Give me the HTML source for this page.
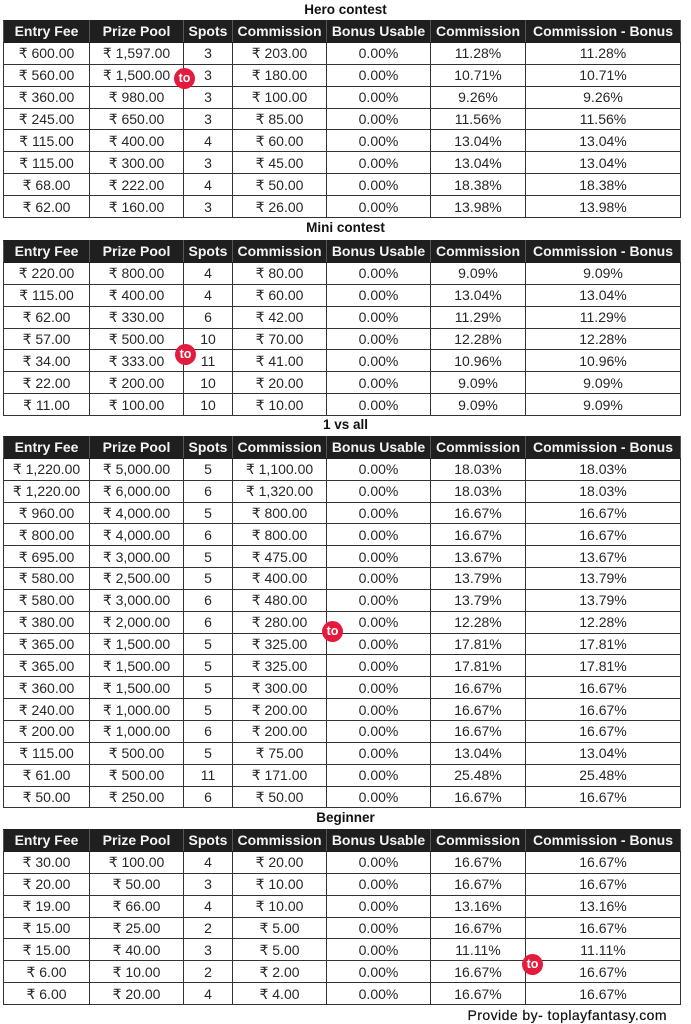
<!DOCTYPE html>
<html><head><meta charset="utf-8">
<style>
html,body{margin:0;padding:0;background:#fff;}
body{width:691px;height:1024px;position:relative;overflow:hidden;font-family:"Liberation Sans","DejaVu Sans",sans-serif;}
.title{position:absolute;left:0;width:691px;text-align:center;font-weight:bold;font-size:13.5px;color:#111;line-height:16px;}
table{position:absolute;left:3px;width:677px;border-collapse:collapse;table-layout:fixed;}
td,th{border:1.5px solid #333;padding:0;text-align:center;font-size:14px;color:#262626;white-space:nowrap;overflow:hidden;line-height:14px;}
th{background:#1f1f1f;color:#f4f4f4;font-weight:bold;font-size:14px;border-color:#1f1f1f #555 #1f1f1f #555;}
.wm{position:absolute;width:21px;height:21px;border-radius:50%;background:#e41b3c;color:#fff;font-weight:bold;font-size:12.5px;line-height:21px;text-align:center;z-index:5;}
.prov{position:absolute;right:24px;top:1007px;font-size:14px;color:#111;letter-spacing:0.45px;font-weight:500;-webkit-text-stroke:0.2px #111;font-family:"Liberation Sans","DejaVu Sans",sans-serif;}
</style></head><body>

<div class="title" style="top:2px;">Hero contest</div>
<table style="top:20px;">
<colgroup><col style="width:86px"><col style="width:94px"><col style="width:49px"><col style="width:94px"><col style="width:104px"><col style="width:95px"><col style="width:155px"></colgroup>
<tr style="height:21.9px"><th>Entry Fee</th><th>Prize Pool</th><th>Spots</th><th>Commission</th><th>Bonus Usable</th><th>Commission</th><th>Commission - Bonus</th></tr>
<tr style="height:21.9px"><td>₹ 600.00</td><td>₹ 1,597.00</td><td>3</td><td>₹ 203.00</td><td>0.00%</td><td>11.28%</td><td>11.28%</td></tr>
<tr style="height:21.9px"><td>₹ 560.00</td><td>₹ 1,500.00</td><td>3</td><td>₹ 180.00</td><td>0.00%</td><td>10.71%</td><td>10.71%</td></tr>
<tr style="height:21.9px"><td>₹ 360.00</td><td>₹ 980.00</td><td>3</td><td>₹ 100.00</td><td>0.00%</td><td>9.26%</td><td>9.26%</td></tr>
<tr style="height:21.9px"><td>₹ 245.00</td><td>₹ 650.00</td><td>3</td><td>₹ 85.00</td><td>0.00%</td><td>11.56%</td><td>11.56%</td></tr>
<tr style="height:21.9px"><td>₹ 115.00</td><td>₹ 400.00</td><td>4</td><td>₹ 60.00</td><td>0.00%</td><td>13.04%</td><td>13.04%</td></tr>
<tr style="height:21.9px"><td>₹ 115.00</td><td>₹ 300.00</td><td>3</td><td>₹ 45.00</td><td>0.00%</td><td>13.04%</td><td>13.04%</td></tr>
<tr style="height:21.9px"><td>₹ 68.00</td><td>₹ 222.00</td><td>4</td><td>₹ 50.00</td><td>0.00%</td><td>18.38%</td><td>18.38%</td></tr>
<tr style="height:21.9px"><td>₹ 62.00</td><td>₹ 160.00</td><td>3</td><td>₹ 26.00</td><td>0.00%</td><td>13.98%</td><td>13.98%</td></tr>
</table>

<div class="title" style="top:220px;">Mini contest</div>
<table style="top:240px;">
<colgroup><col style="width:86px"><col style="width:94px"><col style="width:49px"><col style="width:94px"><col style="width:104px"><col style="width:95px"><col style="width:155px"></colgroup>
<tr style="height:21.9px"><th>Entry Fee</th><th>Prize Pool</th><th>Spots</th><th>Commission</th><th>Bonus Usable</th><th>Commission</th><th>Commission - Bonus</th></tr>
<tr style="height:21.9px"><td>₹ 220.00</td><td>₹ 800.00</td><td>4</td><td>₹ 80.00</td><td>0.00%</td><td>9.09%</td><td>9.09%</td></tr>
<tr style="height:21.9px"><td>₹ 115.00</td><td>₹ 400.00</td><td>4</td><td>₹ 60.00</td><td>0.00%</td><td>13.04%</td><td>13.04%</td></tr>
<tr style="height:21.9px"><td>₹ 62.00</td><td>₹ 330.00</td><td>6</td><td>₹ 42.00</td><td>0.00%</td><td>11.29%</td><td>11.29%</td></tr>
<tr style="height:21.9px"><td>₹ 57.00</td><td>₹ 500.00</td><td>10</td><td>₹ 70.00</td><td>0.00%</td><td>12.28%</td><td>12.28%</td></tr>
<tr style="height:21.9px"><td>₹ 34.00</td><td>₹ 333.00</td><td>11</td><td>₹ 41.00</td><td>0.00%</td><td>10.96%</td><td>10.96%</td></tr>
<tr style="height:21.9px"><td>₹ 22.00</td><td>₹ 200.00</td><td>10</td><td>₹ 20.00</td><td>0.00%</td><td>9.09%</td><td>9.09%</td></tr>
<tr style="height:21.9px"><td>₹ 11.00</td><td>₹ 100.00</td><td>10</td><td>₹ 10.00</td><td>0.00%</td><td>9.09%</td><td>9.09%</td></tr>
</table>

<div class="title" style="top:417px;">1 vs all</div>
<table style="top:436px;">
<colgroup><col style="width:86px"><col style="width:94px"><col style="width:49px"><col style="width:94px"><col style="width:104px"><col style="width:95px"><col style="width:155px"></colgroup>
<tr style="height:21.85px"><th>Entry Fee</th><th>Prize Pool</th><th>Spots</th><th>Commission</th><th>Bonus Usable</th><th>Commission</th><th>Commission - Bonus</th></tr>
<tr style="height:21.85px"><td>₹ 1,220.00</td><td>₹ 5,000.00</td><td>5</td><td>₹ 1,100.00</td><td>0.00%</td><td>18.03%</td><td>18.03%</td></tr>
<tr style="height:21.85px"><td>₹ 1,220.00</td><td>₹ 6,000.00</td><td>6</td><td>₹ 1,320.00</td><td>0.00%</td><td>18.03%</td><td>18.03%</td></tr>
<tr style="height:21.85px"><td>₹ 960.00</td><td>₹ 4,000.00</td><td>5</td><td>₹ 800.00</td><td>0.00%</td><td>16.67%</td><td>16.67%</td></tr>
<tr style="height:21.85px"><td>₹ 800.00</td><td>₹ 4,000.00</td><td>6</td><td>₹ 800.00</td><td>0.00%</td><td>16.67%</td><td>16.67%</td></tr>
<tr style="height:21.85px"><td>₹ 695.00</td><td>₹ 3,000.00</td><td>5</td><td>₹ 475.00</td><td>0.00%</td><td>13.67%</td><td>13.67%</td></tr>
<tr style="height:21.85px"><td>₹ 580.00</td><td>₹ 2,500.00</td><td>5</td><td>₹ 400.00</td><td>0.00%</td><td>13.79%</td><td>13.79%</td></tr>
<tr style="height:21.85px"><td>₹ 580.00</td><td>₹ 3,000.00</td><td>6</td><td>₹ 480.00</td><td>0.00%</td><td>13.79%</td><td>13.79%</td></tr>
<tr style="height:21.85px"><td>₹ 380.00</td><td>₹ 2,000.00</td><td>6</td><td>₹ 280.00</td><td>0.00%</td><td>12.28%</td><td>12.28%</td></tr>
<tr style="height:21.85px"><td>₹ 365.00</td><td>₹ 1,500.00</td><td>5</td><td>₹ 325.00</td><td>0.00%</td><td>17.81%</td><td>17.81%</td></tr>
<tr style="height:21.85px"><td>₹ 365.00</td><td>₹ 1,500.00</td><td>5</td><td>₹ 325.00</td><td>0.00%</td><td>17.81%</td><td>17.81%</td></tr>
<tr style="height:21.85px"><td>₹ 360.00</td><td>₹ 1,500.00</td><td>5</td><td>₹ 300.00</td><td>0.00%</td><td>16.67%</td><td>16.67%</td></tr>
<tr style="height:21.85px"><td>₹ 240.00</td><td>₹ 1,000.00</td><td>5</td><td>₹ 200.00</td><td>0.00%</td><td>16.67%</td><td>16.67%</td></tr>
<tr style="height:21.85px"><td>₹ 200.00</td><td>₹ 1,000.00</td><td>6</td><td>₹ 200.00</td><td>0.00%</td><td>16.67%</td><td>16.67%</td></tr>
<tr style="height:21.85px"><td>₹ 115.00</td><td>₹ 500.00</td><td>5</td><td>₹ 75.00</td><td>0.00%</td><td>13.04%</td><td>13.04%</td></tr>
<tr style="height:21.85px"><td>₹ 61.00</td><td>₹ 500.00</td><td>11</td><td>₹ 171.00</td><td>0.00%</td><td>25.48%</td><td>25.48%</td></tr>
<tr style="height:21.85px"><td>₹ 50.00</td><td>₹ 250.00</td><td>6</td><td>₹ 50.00</td><td>0.00%</td><td>16.67%</td><td>16.67%</td></tr>
</table>

<div class="title" style="top:810px;">Beginner</div>
<table style="top:829px;">
<colgroup><col style="width:86px"><col style="width:94px"><col style="width:49px"><col style="width:94px"><col style="width:104px"><col style="width:95px"><col style="width:155px"></colgroup>
<tr style="height:21.9px"><th>Entry Fee</th><th>Prize Pool</th><th>Spots</th><th>Commission</th><th>Bonus Usable</th><th>Commission</th><th>Commission - Bonus</th></tr>
<tr style="height:21.9px"><td>₹ 30.00</td><td>₹ 100.00</td><td>4</td><td>₹ 20.00</td><td>0.00%</td><td>16.67%</td><td>16.67%</td></tr>
<tr style="height:21.9px"><td>₹ 20.00</td><td>₹ 50.00</td><td>3</td><td>₹ 10.00</td><td>0.00%</td><td>16.67%</td><td>16.67%</td></tr>
<tr style="height:21.9px"><td>₹ 19.00</td><td>₹ 66.00</td><td>4</td><td>₹ 10.00</td><td>0.00%</td><td>13.16%</td><td>13.16%</td></tr>
<tr style="height:21.9px"><td>₹ 15.00</td><td>₹ 25.00</td><td>2</td><td>₹ 5.00</td><td>0.00%</td><td>16.67%</td><td>16.67%</td></tr>
<tr style="height:21.9px"><td>₹ 15.00</td><td>₹ 40.00</td><td>3</td><td>₹ 5.00</td><td>0.00%</td><td>11.11%</td><td>11.11%</td></tr>
<tr style="height:21.9px"><td>₹ 6.00</td><td>₹ 10.00</td><td>2</td><td>₹ 2.00</td><td>0.00%</td><td>16.67%</td><td>16.67%</td></tr>
<tr style="height:21.9px"><td>₹ 6.00</td><td>₹ 20.00</td><td>4</td><td>₹ 4.00</td><td>0.00%</td><td>16.67%</td><td>16.67%</td></tr>
</table>

<div class="wm" style="left:174px;top:68px;">to</div>
<div class="wm" style="left:175px;top:344px;">to</div>
<div class="wm" style="left:322px;top:621px;">to</div>
<div class="wm" style="left:522px;top:954px;">to</div>

<div class="prov">Provide by- toplayfantasy.com</div>
</body></html>
